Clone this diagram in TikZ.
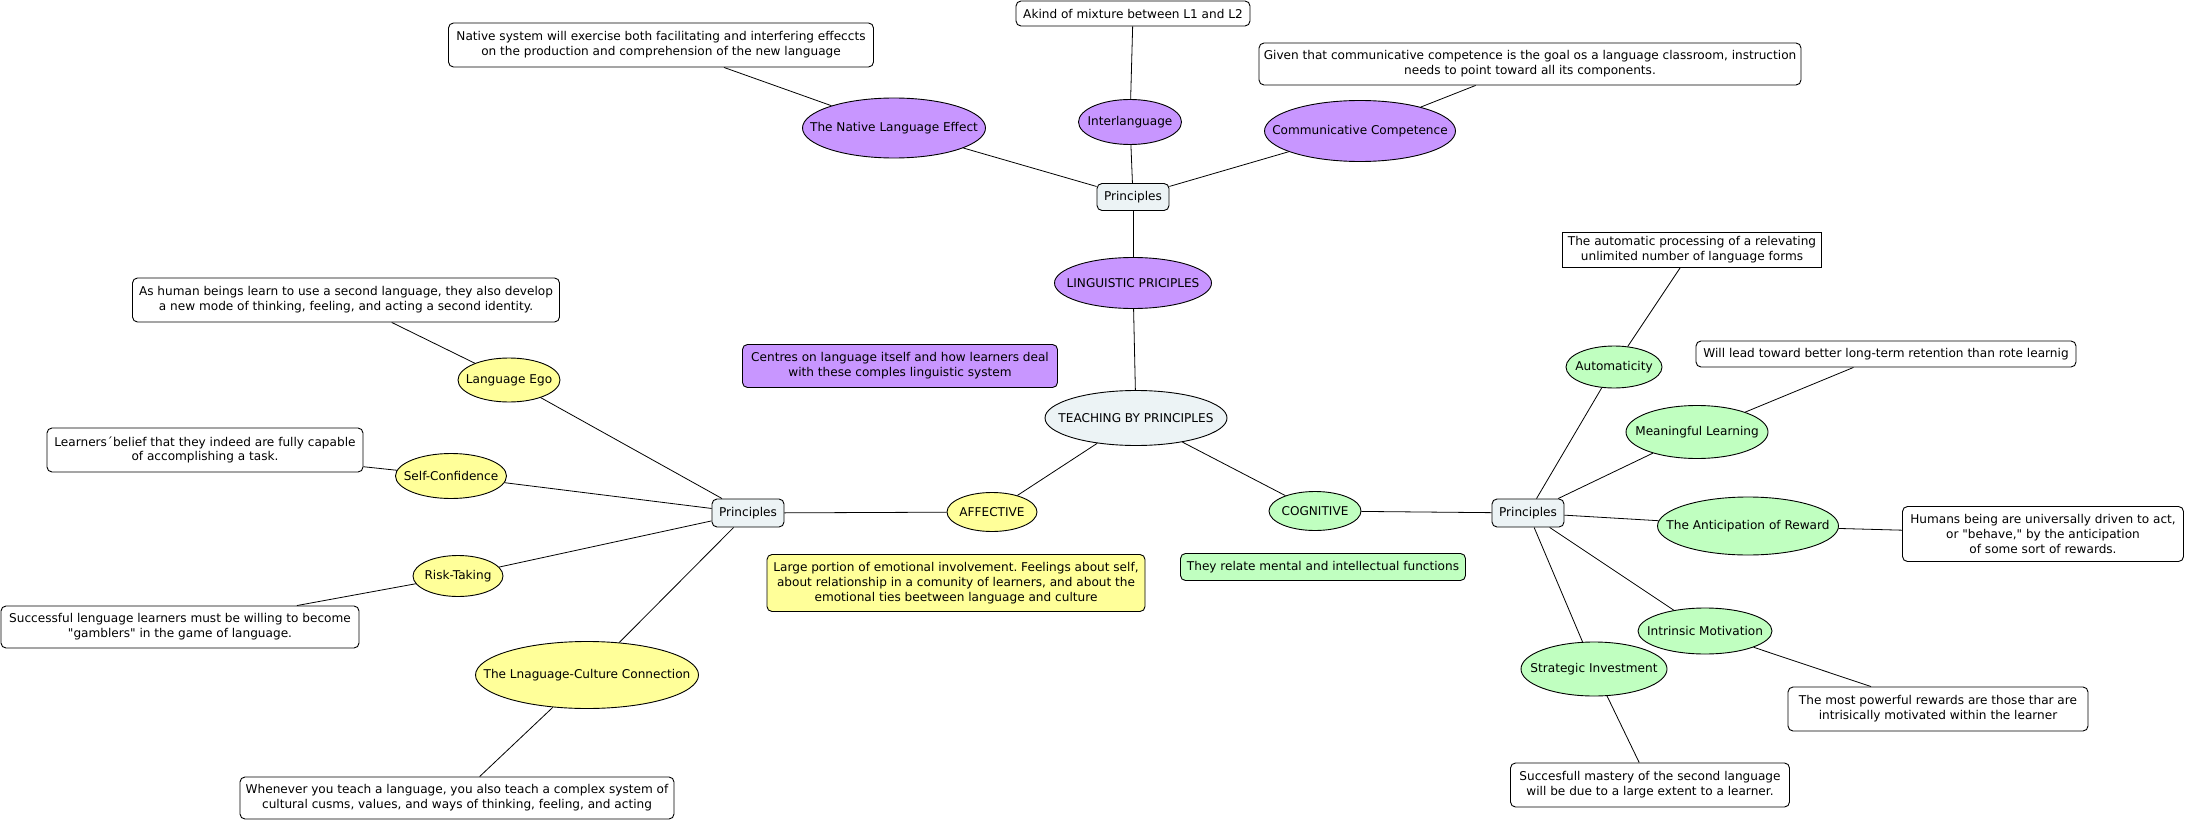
\documentclass[tikz,border=0pt]{standalone}
\usepackage{fontspec}
\setmainfont{DejaVu Sans}
\usetikzlibrary{shapes.geometric}

\definecolor{lilac}{RGB}{200,150,255}
\definecolor{lemon}{RGB}{255,255,153}
\definecolor{mint}{RGB}{192,255,192}
\definecolor{frost}{RGB}{236,243,245}
% text that does not widen its ellipse
\newcommand{\zw}[1]{\makebox[0pt]{#1}}
\frenchspacing

\begin{document}
\begin{tikzpicture}[x=1pt, y=-1pt,
  every node/.style={font=\fontsize{12.1}{14.7}\selectfont, line width=0.9pt},
  concept/.style={ellipse, draw, inner sep=0pt},
  note/.style={rectangle, draw, rounded corners=5pt, fill=white, align=center, inner sep=0pt},
  hub/.style={note, fill=frost}]
\useasboundingbox (0,0) rectangle (2186,821);

% centre and linguistic branch
\node[concept, fill=frost, minimum width=182pt, minimum height=55pt] (teach) at (1136,418) {\zw{TEACHING BY PRINCIPLES}};
\node[concept, fill=lilac, minimum width=157pt, minimum height=51pt] (ling) at (1133,283) {\zw{LINGUISTIC PRICIPLES}};
\node[hub, minimum width=72pt, minimum height=27pt] (ptop) at (1133,197) {Principles};
\node[concept, fill=lilac, minimum width=183pt, minimum height=60pt] (nle) at (894,128) {\zw{The Native Language Effect}};
\node[concept, fill=lilac, minimum width=103pt, minimum height=45pt] (inter) at (1130,122) {\zw{Interlanguage}};
\node[concept, fill=lilac, minimum width=191pt, minimum height=61pt] (comm) at (1360,131) {\zw{Communicative Competence}};
\node[note, minimum width=425pt, minimum height=44pt] (native) at (661,45) {Native system will exercise both facilitating and interfering effeccts\\ on the production and comprehension of the new language};
\node[note, minimum width=234pt, minimum height=25pt] (akind) at (1133,13.5) {Akind of mixture between L1 and L2};
\node[note, minimum width=542pt, minimum height=42pt] (given) at (1530,64) {Given that communicative competence is the goal os a language classroom, instruction\\ needs to point toward all its components.};
\node[note, fill=lilac, minimum width=315pt, minimum height=43pt] (centres) at (900,366) {Centres on language itself and how learners deal\\ with these comples linguistic system};

% affective branch
\node[concept, fill=lemon, minimum width=90pt, minimum height=39pt] (aff) at (992,512) {\zw{AFFECTIVE}};
\node[hub, minimum width=72pt, minimum height=28pt] (pleft) at (748,513) {Principles};
\node[note, fill=lemon, minimum width=378pt, minimum height=57pt] (emotion) at (956,583) {Large portion of emotional involvement. Feelings about self,\\ about relationship in a comunity of learners, and about the\\ emotional ties beetween language and culture};
\node[concept, fill=lemon, minimum width=102pt, minimum height=44pt] (ego) at (509,380) {\zw{Language Ego}};
\node[concept, fill=lemon, minimum width=111pt, minimum height=45pt] (conf) at (451,476) {\zw{Self-Confidence}};
\node[concept, fill=lemon, minimum width=90pt, minimum height=41pt] (risk) at (458,576) {\zw{Risk-Taking}};
\node[concept, fill=lemon, minimum width=223pt, minimum height=67pt] (cult) at (587,675) {\zw{The Lnaguage-Culture Connection}};
\node[note, minimum width=427pt, minimum height=44pt] (human) at (346,300) {As human beings learn to use a second language, they also develop\\ a new mode of thinking, feeling, and acting a second identity.};
\node[note, minimum width=316pt, minimum height=44pt] (belief) at (205,450) {Learners´belief that they indeed are fully capable\\ of accomplishing a task.};
\node[note, minimum width=358pt, minimum height=42pt] (gambl) at (180,627) {Successful lenguage learners must be willing to become\\ \textquotedbl gamblers\textquotedbl\ in the game of language.};
\node[note, minimum width=434pt, minimum height=42pt] (whenever) at (457,798) {Whenever you teach a language, you also teach a complex system of\\ cultural cusms, values, and ways of thinking, feeling, and acting};

% cognitive branch
\node[concept, fill=mint, minimum width=92pt, minimum height=39pt] (cog) at (1315,511) {\zw{COGNITIVE}};
\node[note, fill=mint, minimum width=285pt, minimum height=27pt] (relate) at (1323,567) {They relate mental and intellectual functions};
\node[hub, minimum width=72pt, minimum height=28pt] (pright) at (1528,513) {Principles};
\node[concept, fill=mint, minimum width=96pt, minimum height=42pt] (autom) at (1614,367) {\zw{Automaticity}};
\node[concept, fill=mint, minimum width=142pt, minimum height=53pt] (mean) at (1697,432) {\zw{Meaningful Learning}};
\node[concept, fill=mint, minimum width=181pt, minimum height=58pt] (antic) at (1748,526) {\zw{The Anticipation of Reward}};
\node[concept, fill=mint, minimum width=134pt, minimum height=46pt] (intr) at (1705,631) {\zw{Intrinsic Motivation}};
\node[concept, fill=mint, minimum width=146pt, minimum height=54pt] (strat) at (1594,669) {\zw{Strategic Investment}};
\node[note, rounded corners=0pt, minimum width=259pt, minimum height=35pt] (autobox) at (1692,250) {The automatic processing of a relevating\\ unlimited number of language forms};
\node[note, minimum width=380pt, minimum height=26pt] (retention) at (1886,354) {Will lead toward better long-term retention than rote learnig};
\node[note, minimum width=281pt, minimum height=55pt] (reward) at (2043,534) {Humans being are universally driven to act,\\ or \textquotedbl behave,\textquotedbl\ by the anticipation\\ of some sort of rewards.};
\node[note, minimum width=300pt, minimum height=44pt] (powerful) at (1938,709) {The most powerful rewards are those thar are\\ intrisically motivated within the learner};
\node[note, minimum width=279pt, minimum height=44pt] (mastery) at (1650,785) {Succesfull mastery of the second language\\ will be due to a large extent to a learner.};

% connectors
\foreach \a/\b in {teach/ling, ling/ptop, ptop/nle, ptop/inter, ptop/comm, nle/native, inter/akind, comm/given,
  teach/aff, aff/pleft, pleft/ego, pleft/conf, pleft/risk, pleft/cult, ego/human, conf/belief, risk/gambl, cult/whenever,
  teach/cog, cog/pright, pright/autom, pright/mean, pright/antic, pright/intr, pright/strat,
  autom/autobox, mean/retention, antic/reward, intr/powerful, strat/mastery} {
  \draw[line width=0.8pt] (\a) -- (\b);
}
\end{tikzpicture}
\end{document}
